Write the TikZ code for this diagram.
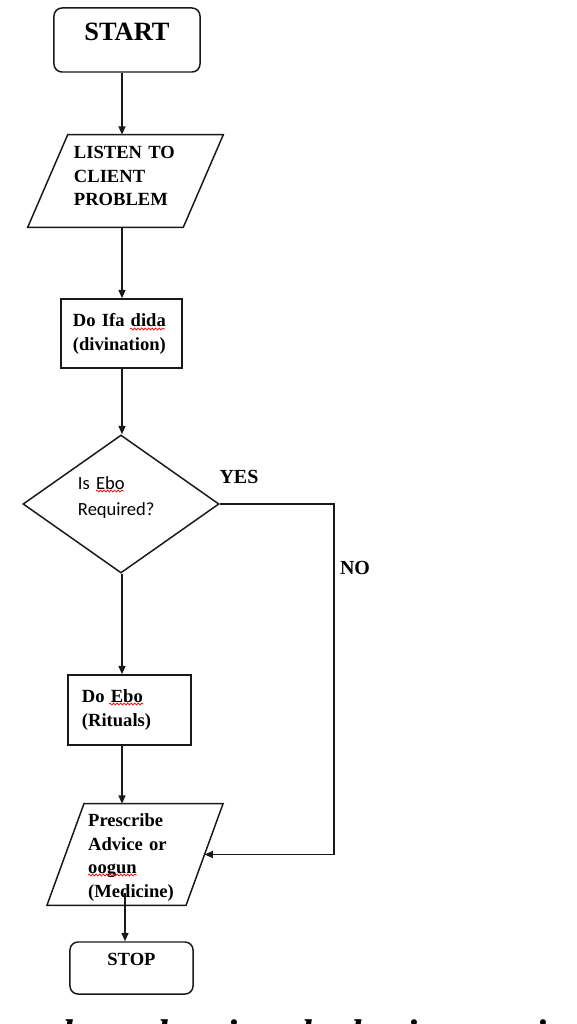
\documentclass[tikz,border=0pt]{standalone}
\usepackage{fontspec}
\setmainfont{Liberation Serif}
\newfontfamily\carlito{Carlito}
\usetikzlibrary{calc,arrows.meta,shapes.geometric,decorations.pathmorphing}
\def\slantbox[#1](#2)(#3){\draw[#1] ($(#2.north west)+(#3/2,0)$) -- ($(#2.north east)+(#3/2,0)$) -- ($(#2.south east)-(#3/2,0)$) -- ($(#2.south west)-(#3/2,0)$) -- cycle;}
\def\txt{\fontsize{13.2}{17}\selectfont\bfseries}

\begin{document}
\begin{tikzpicture}[x=0.025cm, y=-0.025cm,
	line/.style={draw=black!90, line width=1.05pt},
	arr/.style={line, -{Triangle[length=6pt,width=5pt]}},
	term/.style={line, rectangle, rounded corners=0.2cm, inner sep=0pt, font=\txt},
	proc/.style={line, rectangle, inner sep=0pt, align=left, font=\txt},
	io/.style={rectangle, inner sep=0pt, align=left, font=\txt},
	decide/.style={line, diamond, inner sep=0pt},
	dectext/.style={align=left, inner sep=0pt, font=\carlito\fontsize{13.2}{18.5}\selectfont},
	lbl/.style={font=\fontsize{14.2}{17}\selectfont\bfseries},
	squiggle/.style={red, line width=0.5pt, decorate, decoration={snake, amplitude=0.7pt, segment length=2.5pt}}]
			%%%%% START %%%%%
			\useasboundingbox (0,0) rectangle (577,1024);
			\coordinate (spine) at (122,0);
			
			\node[term, minimum width=3.65cm, minimum height=1.6cm] (start) at (127,40) {\fontsize{18.8}{22}\selectfont\raisebox{0.2cm}[\height][\depth]{START}};
			
			\node[minimum width=3.875cm, minimum height=2.3cm] (listen) at (125.5,181) {};
			\slantbox[line](listen)(40)
			\node[io, text width=2.575cm] (listentext) at ($(listen)+(0,-5)$) {LISTEN TO\\CLIENT\\PROBLEM};
			
			\node[proc, minimum width=3.025cm, minimum height=1.725cm, text width=2.425cm] (ifa) at (121.5,333.5) {Do Ifa dida\\(divination)};
			
			\node[decide, minimum width=4.9cm, minimum height=3.45cm] (ebo) at (121,504) {};
			\node[dectext, text width=2.15cm] (ebotext) at ($(ebo)+(0,-6)$) {Is Ebo\\Required?};
			
			\node[proc, minimum width=3.075cm, minimum height=1.75cm, text width=2.375cm] (rituals) at (129.5,710) {Do Ebo\\(Rituals)};
			
			\node[minimum width=3.4625cm, minimum height=2.525cm] (presc) at (135,854.5) {};
			\slantbox[line](presc)(37)
			\node[io, text width=2.3375cm] (presctext) at ($(presc)+(0,3)$) {Prescribe\\Advice or\\oogun\\(Medicine)};
			
			\node[term, minimum width=3.075cm, minimum height=1.3cm] (stop) at (131.5,968) {\raisebox{0.225cm}[\height][\depth]{STOP}};
			
			\node[lbl] (yes) at (239,477) {YES};
			\node[lbl] (no) at (355,568) {NO};
			
			\draw[arr] (start.south -| spine) -- (listen.north -| spine);
			\draw[arr] (listen.south -| spine) -- (ifa.north -| spine);
			\draw[arr] (ifa.south -| spine) -- (ebo.north -| spine);
			\draw[arr] (ebo.south -| spine) -- (rituals.north -| spine);
			\draw[arr] (rituals.south -| spine) -- (presc.north -| spine);
			\draw[arr] ($(presc.south -| spine)+(3,-12)$) -- ($(stop.north -| spine)+(3,0)$);
			\draw[arr] (ebo.east) -- ++(114,0) |- (presc.east);
			
			% spelling marks
			\draw[squiggle] (130,329) -- (165,329);
			\draw[squiggle] (96,491) -- (124,491);
			\draw[squiggle] (109,704) -- (143,704);
			\draw[squiggle] (88,875) -- (137,875);
			
			\node[anchor=base west, font=\fontsize{28.5}{34}\selectfont\bfseries\itshape] (caption) at (40,1047) {chart showing the basic steps in};
			%%%%% END %%%%%
\end{tikzpicture}
\end{document}
